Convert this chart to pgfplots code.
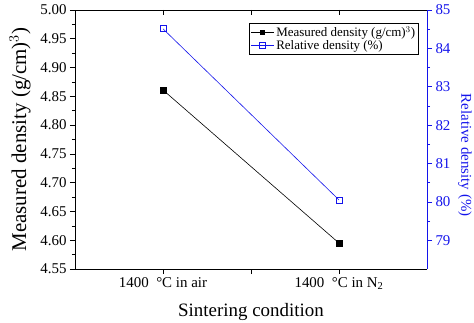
\documentclass[border=0pt]{standalone}
\usepackage{pgfplots}
\pgfplotsset{compat=1.18}
\usepackage{fontspec}
\setmainfont{Liberation Serif}
\definecolor{rblue}{RGB}{20,20,235}
\begin{document}
\begin{tikzpicture}
\pgfplotsset{
  base/.style={
    scale only axis, width=352bp, height=259bp,
    xmin=0.5, xmax=2.5,
    /pgf/number format/assume math mode=true,
    ticklabel style={font=\fontsize{15}{17}\selectfont},
    major tick length=5bp, minor tick length=3bp,
  }
}
% top axis line with inward ticks
\begin{axis}[base, axis x line*=top, hide y axis, ymin=0, ymax=1,
  xtick={1,1.5,2}, xticklabels={}, tick align=inside, tick style={black, line width=0.6pt}, axis line style={line width=0.8pt}]
\end{axis}
% left axis
\begin{axis}[base,
  axis y line*=left, axis x line*=bottom,
  axis line style={line width=0.8pt, -},
  tick align=outside, tick style={black, line width=0.6pt},
  ymin=4.55, ymax=5.00,
  ytick={4.55,4.60,...,5.00},
  yticklabel style={/pgf/number format/fixed, /pgf/number format/fixed zerofill, /pgf/number format/precision=2},
  minor y tick num=1,
  xtick={1,1.5,2},
  xticklabels={1400~~°C in air, , 1400~~°C in N\textsubscript{2}},
  ylabel={Measured density (g/cm)$^3$)},
  every axis y label/.style={at={(axis description cs:-0.156,0.5)}, rotate=90, anchor=center, font=\fontsize{21}{24}\selectfont},
  xlabel={Sintering condition},
  every axis x label/.style={at={(axis description cs:0.5,-0.166)}, anchor=center, font=\fontsize{19}{22}\selectfont},
]
\addplot[black, line width=0.6pt, mark=square*, mark size=3bp, mark options={solid}] coordinates {(1,4.861) (2,4.595)};
\end{axis}
% right axis
\begin{axis}[base,
  axis y line*=right, axis x line=none,
  axis line style={rblue, line width=0.8pt, -},
  tick align=outside, tick style={rblue, line width=0.6pt},
  ymin=78.25, ymax=85,
  ytick={79,80,...,85},
  minor y tick num=1,
  yticklabel style={rblue},
  ylabel={Relative density (\%)},
  every axis y label/.style={at={(axis description cs:1.108,0.44)}, rotate=-90, anchor=center, font=\fontsize{15}{17}\selectfont, text=rblue},
  legend style={at={(axis description cs:0.977,0.95)}, anchor=north east,
    font=\fontsize{13}{15}\selectfont, draw=black, line width=0.5pt,
    inner sep=1.5bp, row sep=-2bp, cells={anchor=west}},
  legend image code/.code={\draw[#1, mark repeat=2, mark phase=2] plot coordinates {(0cm,0cm) (0.4cm,0cm) (0.8cm,0cm)};},
]
\addlegendimage{black, line width=0.6pt, mark=square*, mark size=2bp}
\addlegendentry{Measured density (g/cm)$^3$)}
\addplot[rblue, line width=0.6pt, mark=square, mark size=3bp, mark options={solid, fill=white}] coordinates {(1,84.51) (2,80.05)};
\addlegendentry{Relative density (\%)}
\end{axis}
\pgfresetboundingbox
\useasboundingbox (-75bp,-54bp) rectangle (399bp,269bp);
\end{tikzpicture}
\end{document}
